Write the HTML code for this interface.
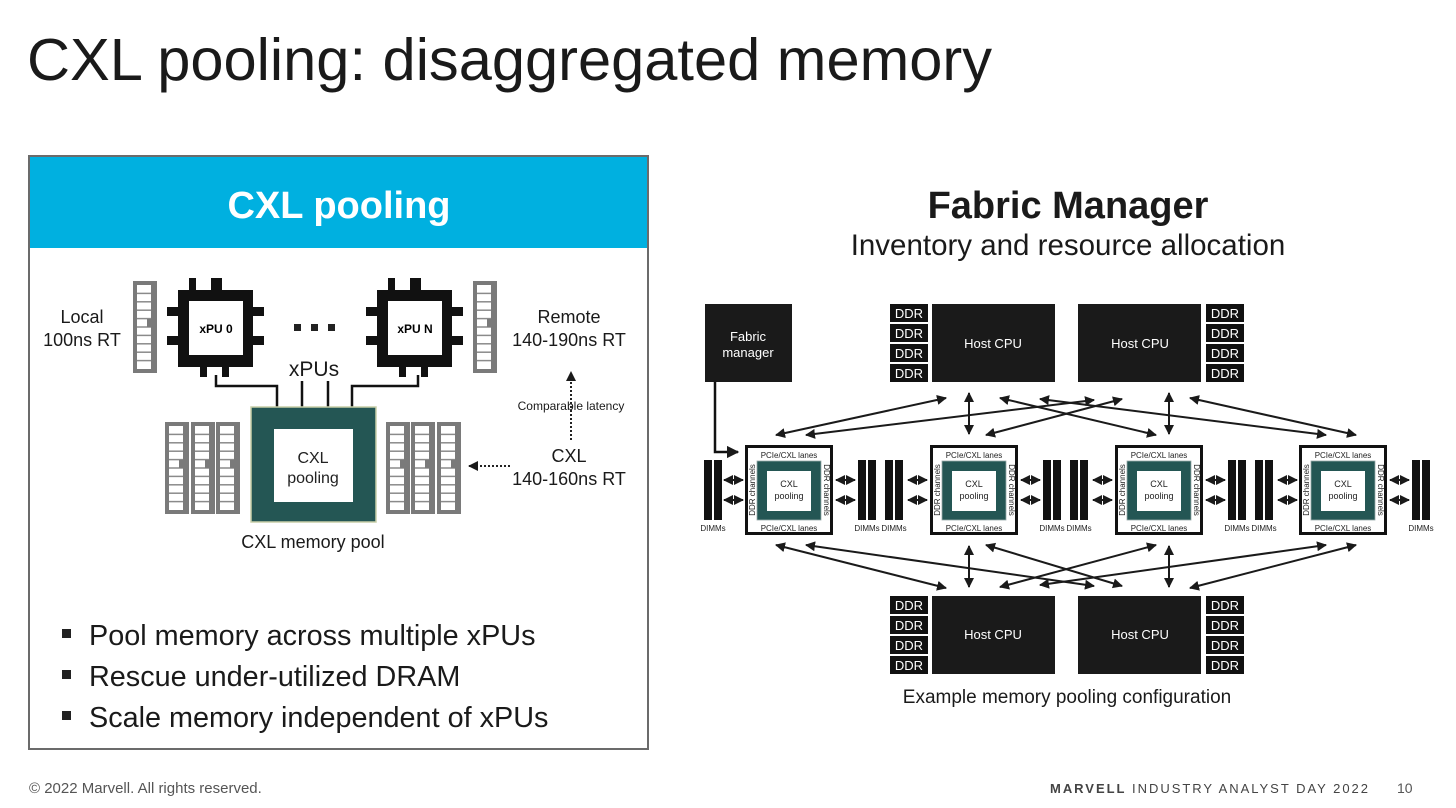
<!DOCTYPE html>
<html><head><meta charset="utf-8"><style>
body{margin:0;background:#fff;}
svg{display:block;font-family:"Liberation Sans",Arial,sans-serif;}
</style></head><body>
<svg width="1456" height="808" viewBox="0 0 1456 808" xmlns="http://www.w3.org/2000/svg">
<defs>
<marker id="ah" viewBox="0 0 10 10" refX="9" refY="5" markerWidth="5" markerHeight="5" orient="auto-start-reverse"><path d="M0,0L10,5L0,10z" fill="#1a1a1a"/></marker>
<marker id="ahs" viewBox="0 0 10 10" refX="9" refY="5" markerWidth="5" markerHeight="5" orient="auto"><path d="M0,0L10,5L0,10z" fill="#1a1a1a"/></marker>
<g id="stick">
<rect x="0" y="0" width="24" height="92" fill="#7a7a7a"/>
<rect x="4" y="4" width="14" height="84" fill="#fff"/>
<g stroke="#8a8a8a" stroke-width="1.5">
<line x1="4" y1="12.4" x2="18" y2="12.4"/><line x1="4" y1="20.8" x2="18" y2="20.8"/><line x1="4" y1="29.2" x2="18" y2="29.2"/><line x1="4" y1="37.6" x2="18" y2="37.6"/><line x1="4" y1="46" x2="18" y2="46"/><line x1="4" y1="54.4" x2="18" y2="54.4"/><line x1="4" y1="62.8" x2="18" y2="62.8"/><line x1="4" y1="71.2" x2="18" y2="71.2"/><line x1="4" y1="79.6" x2="18" y2="79.6"/></g>
<rect x="14" y="38" width="5" height="8" fill="#7a7a7a"/>
</g>
<g id="chip">
<rect x="11" y="-12" width="7" height="14" fill="#111"/><rect x="33" y="-12" width="11" height="14" fill="#111"/>
<rect x="22" y="73" width="7" height="14" fill="#111"/><rect x="44" y="73" width="7" height="14" fill="#111"/>
<rect x="-11" y="17" width="14" height="9" fill="#111"/><rect x="-11" y="46" width="14" height="9" fill="#111"/>
<rect x="72" y="17" width="14" height="9" fill="#111"/><rect x="72" y="46" width="14" height="9" fill="#111"/>
<rect x="0" y="0" width="75" height="77" fill="#111"/>
<rect x="11" y="11" width="54" height="54" fill="#fff"/>
</g>
<g id="pool">
<rect x="1.5" y="1.5" width="85" height="87" fill="#fff" stroke="#111" stroke-width="3"/>
<rect x="12" y="16" width="64" height="59" fill="#245654" stroke="#9aa" stroke-width="0.8"/>
<rect x="22" y="26" width="44" height="40" fill="#fff"/>
<text x="44" y="42" font-size="9" text-anchor="middle" fill="#222">CXL</text>
<text x="44" y="54" font-size="9" text-anchor="middle" fill="#222">pooling</text>
<text x="44" y="13" font-size="8" text-anchor="middle" fill="#222">PCIe/CXL lanes</text>
<text x="44" y="86" font-size="8" text-anchor="middle" fill="#222">PCIe/CXL lanes</text>
<text transform="translate(10,45) rotate(-90)" font-size="8" text-anchor="middle" fill="#222">DDR channels</text>
<text transform="translate(79,45) rotate(90)" font-size="8" text-anchor="middle" fill="#222">DDR channels</text>
</g>
<g id="ddr">
<rect x="0" y="0" width="38" height="18" fill="#111"/><text x="19" y="14" font-size="13" fill="#fff" text-anchor="middle">DDR</text>
<rect x="0" y="20" width="38" height="18" fill="#111"/><text x="19" y="34" font-size="13" fill="#fff" text-anchor="middle">DDR</text>
<rect x="0" y="40" width="38" height="18" fill="#111"/><text x="19" y="54" font-size="13" fill="#fff" text-anchor="middle">DDR</text>
<rect x="0" y="60" width="38" height="18" fill="#111"/><text x="19" y="74" font-size="13" fill="#fff" text-anchor="middle">DDR</text>
</g>
<g id="dim2"><rect x="0" y="0" width="8" height="60" fill="#111"/><rect x="10" y="0" width="8" height="60" fill="#111"/></g>
<g id="harr" stroke="#1a1a1a" stroke-width="2"><line x1="2" y1="0" x2="21" y2="0" marker-start="url(#ah)" marker-end="url(#ah)"/><line x1="2" y1="20" x2="21" y2="20" marker-start="url(#ah)" marker-end="url(#ah)"/></g>
</defs>

<text x="27" y="80" font-size="59" fill="#1a1a1a" textLength="965" lengthAdjust="spacingAndGlyphs">CXL pooling: disaggregated memory</text>

<!-- left panel -->
<rect x="29" y="156" width="619" height="593" fill="#fff" stroke="#6b6b6b" stroke-width="2"/>
<rect x="30" y="157" width="617" height="91" fill="#00b0e0"/>
<text x="339" y="218" font-size="38" font-weight="bold" fill="#fff" text-anchor="middle">CXL pooling</text>

<use href="#stick" x="133" y="281"/>
<use href="#stick" x="473" y="281"/>
<use href="#chip" x="178" y="290"/>
<use href="#chip" x="377" y="290"/>
<text x="216" y="333" font-size="12" font-weight="bold" text-anchor="middle">xPU 0</text>
<text x="415" y="333" font-size="12" font-weight="bold" text-anchor="middle">xPU N</text>
<rect x="294" y="324" width="7" height="7" fill="#222"/><rect x="311" y="324" width="7" height="7" fill="#222"/><rect x="328" y="324" width="7" height="7" fill="#222"/>
<g stroke="#111" stroke-width="2.5" fill="none">
<path d="M216,375V386H277V408"/><path d="M418,375V386H352V408"/>
<line x1="302" y1="381" x2="302" y2="408"/><line x1="328" y1="381" x2="328" y2="408"/>
</g>
<text x="314" y="376" font-size="21" text-anchor="middle" fill="#1a1a1a">xPUs</text>
<rect x="251" y="407" width="125" height="115" fill="#245654" stroke="#c8cfa8" stroke-width="1.5"/>
<rect x="274" y="429" width="79" height="73" fill="#fff"/>
<text x="313" y="463" font-size="16" text-anchor="middle" fill="#222">CXL</text>
<text x="313" y="483" font-size="16" text-anchor="middle" fill="#222">pooling</text>
<use href="#stick" x="165" y="422"/><use href="#stick" x="191" y="422"/><use href="#stick" x="216" y="422"/>
<use href="#stick" x="386" y="422"/><use href="#stick" x="411" y="422"/><use href="#stick" x="437" y="422"/>
<text x="313" y="548" font-size="18" text-anchor="middle" fill="#1a1a1a">CXL memory pool</text>

<g font-size="18" fill="#1a1a1a" text-anchor="middle">
<text x="82" y="323">Local</text><text x="82" y="346">100ns RT</text>
<text x="569" y="323">Remote</text><text x="569" y="346">140-190ns RT</text>
<text x="569" y="462">CXL</text><text x="569" y="485">140-160ns RT</text>
</g>
<text x="571" y="410" font-size="12" text-anchor="middle" fill="#1a1a1a">Comparable latency</text>
<line x1="571" y1="440" x2="571" y2="372" stroke="#222" stroke-width="2" stroke-dasharray="2,2" marker-end="url(#ahs)"/>
<line x1="510" y1="466" x2="469" y2="466" stroke="#222" stroke-width="2" stroke-dasharray="2,2" marker-end="url(#ahs)"/>

<g font-size="28.8" fill="#1a1a1a">
<rect x="62" y="629" width="9" height="9" fill="#222"/><text x="89" y="645">Pool memory across multiple xPUs</text>
<rect x="62" y="670" width="9" height="9" fill="#222"/><text x="89" y="686">Rescue under-utilized DRAM</text>
<rect x="62" y="711" width="9" height="9" fill="#222"/><text x="89" y="727">Scale memory independent of xPUs</text>
</g>

<!-- right -->
<text x="1068" y="218" font-size="38" font-weight="bold" text-anchor="middle" fill="#1a1a1a">Fabric Manager</text>
<text x="1068" y="255" font-size="29.5" text-anchor="middle" fill="#1a1a1a">Inventory and resource allocation</text>

<rect x="705" y="304" width="87" height="78" fill="#1a1a1a"/>
<text x="748" y="341" font-size="13" fill="#fff" text-anchor="middle">Fabric</text>
<text x="748" y="357" font-size="13" fill="#fff" text-anchor="middle">manager</text>
<path d="M715,382V452H738" stroke="#111" stroke-width="2.5" fill="none" marker-end="url(#ahs)"/>

<use href="#ddr" x="890" y="304"/><use href="#ddr" x="1206" y="304"/>
<use href="#ddr" x="890" y="596"/><use href="#ddr" x="1206" y="596"/>
<g fill="#1a1a1a"><rect x="932" y="304" width="123" height="78"/><rect x="1078" y="304" width="123" height="78"/>
<rect x="932" y="596" width="123" height="78"/><rect x="1078" y="596" width="123" height="78"/></g>
<g font-size="13" fill="#fff" text-anchor="middle">
<text x="993" y="348">Host CPU</text><text x="1140" y="348">Host CPU</text>
<text x="993" y="639">Host CPU</text><text x="1140" y="639">Host CPU</text></g>

<use href="#pool" x="745" y="445"/><use href="#pool" x="930" y="445"/><use href="#pool" x="1115" y="445"/><use href="#pool" x="1299" y="445"/>
<use href="#dim2" x="704" y="460"/><use href="#dim2" x="858" y="460"/><use href="#dim2" x="885" y="460"/>
<use href="#dim2" x="1043" y="460"/><use href="#dim2" x="1070" y="460"/><use href="#dim2" x="1228" y="460"/><use href="#dim2" x="1255" y="460"/><use href="#dim2" x="1412" y="460"/>
<g font-size="8" fill="#222" text-anchor="middle">
<text x="713" y="531">DIMMs</text><text x="867" y="531">DIMMs</text><text x="894" y="531">DIMMs</text>
<text x="1052" y="531">DIMMs</text><text x="1079" y="531">DIMMs</text><text x="1237" y="531">DIMMs</text><text x="1264" y="531">DIMMs</text><text x="1421" y="531">DIMMs</text></g>
<use href="#harr" x="722" y="480"/><use href="#harr" x="834" y="480"/><use href="#harr" x="906" y="480"/>
<use href="#harr" x="1019" y="480"/><use href="#harr" x="1091" y="480"/><use href="#harr" x="1204" y="480"/>
<use href="#harr" x="1276" y="480"/><use href="#harr" x="1388" y="480"/>

<g stroke="#1a1a1a" stroke-width="2" marker-start="url(#ah)" marker-end="url(#ah)">
<line x1="776" y1="435" x2="946" y2="398"/>
<line x1="806" y1="435" x2="1094" y2="400"/>
<line x1="986" y1="435" x2="1122" y2="399"/>
<line x1="1000" y1="398" x2="1156" y2="435"/>
<line x1="1040" y1="399" x2="1326" y2="435"/>
<line x1="1190" y1="398" x2="1356" y2="435"/>
<line x1="969" y1="393" x2="969" y2="434"/>
<line x1="1169" y1="393" x2="1169" y2="434"/>
<line x1="776" y1="545" x2="946" y2="588"/>
<line x1="806" y1="545" x2="1094" y2="586"/>
<line x1="986" y1="545" x2="1122" y2="586"/>
<line x1="1000" y1="587" x2="1156" y2="545"/>
<line x1="1040" y1="585" x2="1326" y2="545"/>
<line x1="1190" y1="588" x2="1356" y2="545"/>
<line x1="969" y1="546" x2="969" y2="587"/>
<line x1="1169" y1="546" x2="1169" y2="587"/>
</g>
<text x="1067" y="703" font-size="19" text-anchor="middle" fill="#1a1a1a">Example memory pooling configuration</text>

<text x="29" y="793" font-size="15" fill="#555">© 2022 Marvell. All rights reserved.</text>
<text x="1050" y="793" font-size="13" fill="#444" letter-spacing="2" textLength="320"><tspan font-weight="bold">MARVELL</tspan> INDUSTRY ANALYST DAY 2022</text>
<text x="1397" y="793" font-size="14" fill="#555">10</text>
</svg>
</body></html>
